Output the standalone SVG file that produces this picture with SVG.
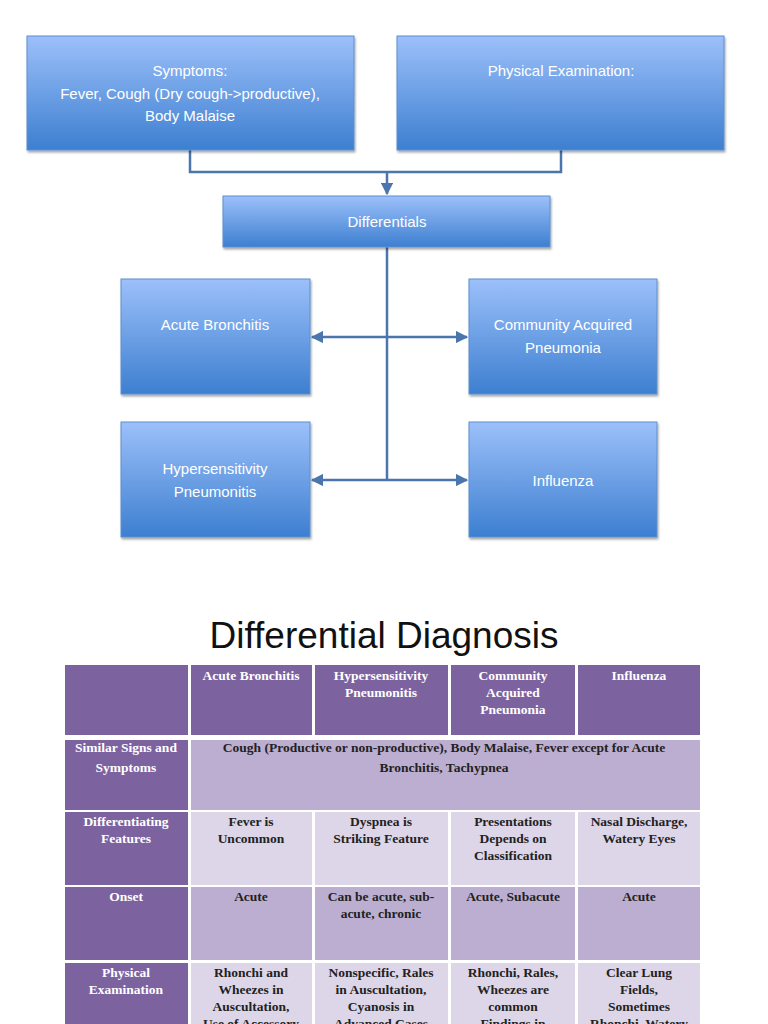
<svg xmlns="http://www.w3.org/2000/svg" width="768" height="1024" viewBox="0 0 768 1024">
<defs>
<linearGradient id="bg" x1="0" y1="0" x2="0" y2="1"><stop offset="0" stop-color="#9cc0fa"/><stop offset="1" stop-color="#3d7fd0"/></linearGradient>
<marker id="ar" viewBox="0 0 10 10" refX="9" refY="5" markerWidth="5" markerHeight="5" orient="auto-start-reverse"><path d="M0,0 L10,5 L0,10 z" fill="#4a76ad"/></marker>
<filter id="sh" x="-5%" y="-5%" width="110%" height="115%"><feDropShadow dx="1" dy="2" stdDeviation="1.2" flood-opacity="0.35"/></filter>
</defs>
<style>
.b{fill:url(#bg);stroke:#5d8fd0;stroke-width:1;filter:url(#sh)}
.t{font-family:"Liberation Sans",Arial,sans-serif;font-size:15px;fill:#fff;text-anchor:middle}
.c{fill:none;stroke:#4a76ad;stroke-width:2.5}
.h{fill:#7d62a0}.l{fill:#bcaed0}.p{fill:#ddd6e8}
.w{font-family:"Liberation Serif","Times New Roman",serif;font-size:13.5px;font-weight:bold;fill:#fff;text-anchor:middle}
.k{font-family:"Liberation Serif","Times New Roman",serif;font-size:13.5px;font-weight:bold;fill:#222;text-anchor:middle}
</style>
<rect width="768" height="1024" fill="#fff"/>
<g id="connectors">
<path class="c" d="M190,150 V172 H561 V150"/>
<path class="c" d="M387,172 V194" marker-end="url(#ar)"/>
<path class="c" d="M387,247 V480"/>
<path class="c" d="M312,337 H467" marker-start="url(#ar)" marker-end="url(#ar)"/>
<path class="c" d="M312,480 H467" marker-start="url(#ar)" marker-end="url(#ar)"/>
</g>
<g id="symptoms"><rect class="b" x="27" y="36" width="327" height="114"/><text class="t" x="190" y="76">Symptoms:</text><text class="t" x="190" y="99">Fever, Cough (Dry cough-&gt;productive),</text><text class="t" x="190" y="121">Body Malaise</text></g>
<g id="physical"><rect class="b" x="397" y="36" width="327" height="114"/><text class="t" x="561" y="76">Physical Examination:</text></g>
<g id="differentials"><rect class="b" x="223" y="196" width="327" height="51"/><text class="t" x="387" y="227">Differentials</text></g>
<g id="acute"><rect class="b" x="121" y="279" width="189" height="115"/><text class="t" x="215" y="330">Acute Bronchitis</text></g>
<g id="cap"><rect class="b" x="469" y="279" width="188" height="115"/><text class="t" x="563" y="330">Community Acquired</text><text class="t" x="563" y="353">Pneumonia</text></g>
<g id="hyper"><rect class="b" x="121" y="422" width="189" height="115"/><text class="t" x="215" y="474">Hypersensitivity</text><text class="t" x="215" y="497">Pneumonitis</text></g>
<g id="influenza"><rect class="b" x="469" y="422" width="188" height="115"/><text class="t" x="563" y="486">Influenza</text></g>
<text x="384" y="648" font-family="Liberation Sans,Arial,sans-serif" font-size="37" fill="#111" text-anchor="middle">Differential Diagnosis</text>
<g id="table">
<rect class="h" x="65" y="665" width="123" height="70"/><rect class="h" x="191" y="665" width="121" height="70"/><rect class="h" x="315" y="665" width="133" height="70"/><rect class="h" x="451" y="665" width="124" height="70"/><rect class="h" x="578" y="665" width="122" height="70"/>
<text class="w" x="251" y="680">Acute Bronchitis</text>
<text class="w" x="381" y="680">Hypersensitivity</text><text class="w" x="381" y="697">Pneumonitis</text>
<text class="w" x="513" y="680">Community</text><text class="w" x="513" y="697">Acquired</text><text class="w" x="513" y="714">Pneumonia</text>
<text class="w" x="639" y="680">Influenza</text>
<rect class="h" x="65" y="740" width="123" height="70"/><rect class="l" x="191" y="740" width="509" height="70"/>
<text class="w" x="126" y="752">Similar Signs and</text><text class="w" x="126" y="772">Symptoms</text>
<text class="k" x="444" y="752">Cough (Productive or non-productive), Body Malaise, Fever except for Acute</text><text class="k" x="444" y="772">Bronchitis, Tachypnea</text>
<rect class="h" x="65" y="812" width="123" height="73"/><rect class="p" x="191" y="812" width="121" height="73"/><rect class="p" x="315" y="812" width="133" height="73"/><rect class="p" x="451" y="812" width="124" height="73"/><rect class="p" x="578" y="812" width="122" height="73"/>
<text class="w" x="126" y="826">Differentiating</text><text class="w" x="126" y="843">Features</text>
<text class="k" x="251" y="826">Fever is</text><text class="k" x="251" y="843">Uncommon</text>
<text class="k" x="381" y="826">Dyspnea is</text><text class="k" x="381" y="843">Striking Feature</text>
<text class="k" x="513" y="826">Presentations</text><text class="k" x="513" y="843">Depends on</text><text class="k" x="513" y="860">Classification</text>
<text class="k" x="639" y="826">Nasal Discharge,</text><text class="k" x="639" y="843">Watery Eyes</text>
<rect class="h" x="65" y="887" width="123" height="73"/><rect class="l" x="191" y="887" width="121" height="73"/><rect class="l" x="315" y="887" width="133" height="73"/><rect class="l" x="451" y="887" width="124" height="73"/><rect class="l" x="578" y="887" width="122" height="73"/>
<text class="w" x="126" y="901">Onset</text>
<text class="k" x="251" y="901">Acute</text>
<text class="k" x="381" y="901">Can be acute, sub-</text><text class="k" x="381" y="918">acute, chronic</text>
<text class="k" x="513" y="901">Acute, Subacute</text>
<text class="k" x="639" y="901">Acute</text>
<rect class="h" x="65" y="963" width="123" height="70"/><rect class="p" x="191" y="963" width="121" height="70"/><rect class="p" x="315" y="963" width="133" height="70"/><rect class="p" x="451" y="963" width="124" height="70"/><rect class="p" x="578" y="963" width="122" height="70"/>
<text class="w" x="126" y="977">Physical</text><text class="w" x="126" y="994">Examination</text>
<text class="k" x="251" y="977">Rhonchi and</text><text class="k" x="251" y="994">Wheezes in</text><text class="k" x="251" y="1011">Auscultation,</text><text class="k" x="251" y="1028">Use of Accessory</text>
<text class="k" x="381" y="977">Nonspecific, Rales</text><text class="k" x="381" y="994">in Auscultation,</text><text class="k" x="381" y="1011">Cyanosis in</text><text class="k" x="381" y="1028">Advanced Cases</text>
<text class="k" x="513" y="977">Rhonchi, Rales,</text><text class="k" x="513" y="994">Wheezes are</text><text class="k" x="513" y="1011">common</text><text class="k" x="513" y="1028">Findings in</text>
<text class="k" x="639" y="977">Clear Lung</text><text class="k" x="639" y="994">Fields,</text><text class="k" x="639" y="1011">Sometimes</text><text class="k" x="639" y="1028">Rhonchi, Watery</text>
</g>
</svg>
